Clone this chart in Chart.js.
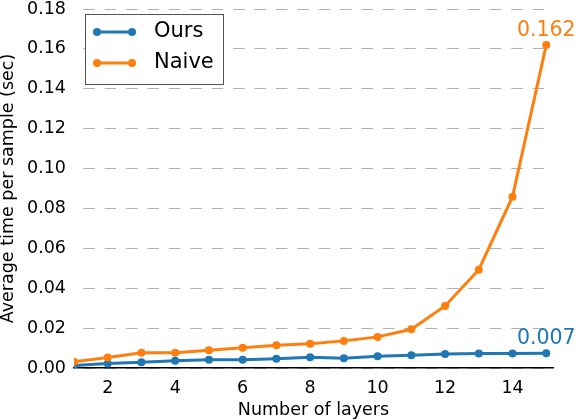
<!DOCTYPE html>
<html lang="en">
<head>
  <meta charset="UTF-8" />
  <title>Average time per sample</title>
  <script src="https://cdn.jsdelivr.net/npm/chart.js"></script>
  <style>
    * {
      margin: 0;
      padding: 0;
      box-sizing: border-box;
    }

    body {
      background-color: #fff;
    }

    .chart-container {
      position: relative;
      width: 579px;
      height: 420px;
    }
  </style>
</head>
<body>

  <div class="chart-container">
    <canvas id="timeChart"></canvas>
  </div>

  <script>
    // values
    const layers = [1, 2, 3, 4, 5, 6, 7, 8, 9, 10, 11, 12, 13, 14, 15];
    const ours = [0.0012, 0.0022, 0.0029, 0.0036, 0.0041, 0.0041, 0.0046, 0.0054, 0.0049, 0.0059, 0.0064, 0.0070, 0.0073, 0.0073, 0.0074];
    const naive = [0.0031, 0.0053, 0.0076, 0.0076, 0.0089, 0.0101, 0.0114, 0.0122, 0.0136, 0.0156, 0.0194, 0.0311, 0.0493, 0.0859, 0.162];
    const xTicks = [2, 4, 6, 8, 10, 12, 14];
    const seriesNames = ['Ours', 'Naive'];

    const BLUE = '#1f77b4';
    const ORANGE = '#ff7f0e';
    const FONT = 'DejaVu Sans';

    Chart.defaults.font.family = FONT;
    Chart.defaults.color = '#000';

    function toPoints(values) {
      return layers.map((x, i) => ({ x: x, y: values[i] }));
    }

    // matplotlib-style legend box, top left inside the axes
    const boxLegend = {
      id: 'boxLegend',
      afterDraw(chart) {
        const ctx = chart.ctx;
        const left = chart.chartArea.left + 11;
        const top = chart.chartArea.top + 5;
        ctx.save();
        ctx.fillStyle = '#fff';
        ctx.strokeStyle = '#555';
        ctx.lineWidth = 1;
        ctx.fillRect(left, top, 138, 70);
        ctx.strokeRect(left + 0.5, top + 0.5, 138, 70);
        chart.data.datasets.forEach((ds, i) => {
          const y = top + 18 + i * 31;
          ctx.strokeStyle = ds.borderColor;
          ctx.fillStyle = ds.borderColor;
          ctx.lineWidth = 3;
          ctx.beginPath();
          ctx.moveTo(left + 12, y);
          ctx.lineTo(left + 47, y);
          ctx.stroke();
          [left + 12, left + 47].forEach(px => {
            ctx.beginPath();
            ctx.arc(px, y, 4, 0, Math.PI * 2);
            ctx.fill();
          });
          ctx.fillStyle = '#000';
          ctx.font = '21px ' + FONT;
          ctx.textBaseline = 'middle';
          ctx.textAlign = 'left';
          ctx.fillText(ds.label, left + 69, y);
        });
        ctx.restore();
      }
    };

    // value label above the last point of each series
    const endLabels = {
      id: 'endLabels',
      afterDatasetsDraw(chart) {
        const ctx = chart.ctx;
        ctx.save();
        ctx.font = '20.5px ' + FONT;
        ctx.textAlign = 'center';
        ctx.textBaseline = 'alphabetic';
        chart.data.datasets.forEach((ds, i) => {
          const meta = chart.getDatasetMeta(i);
          const last = meta.data[meta.data.length - 1];
          const value = ds.data[ds.data.length - 1].y;
          ctx.fillStyle = ds.borderColor;
          ctx.fillText(value.toFixed(3), last.x, last.y - 9);
        });
        ctx.restore();
      }
    };

    function lineSet(label, values, color, order) {
      return {
        label: label,
        data: toPoints(values),
        borderColor: color,
        backgroundColor: color,
        borderWidth: 3,
        pointRadius: 4,
        pointBorderWidth: 0,
        pointBackgroundColor: color,
        pointHoverRadius: 4,
        tension: 0,
        clip: 0,
        order: order
      };
    }

    new Chart(document.getElementById('timeChart'), {
      type: 'line',
      data: {
        datasets: [
          lineSet(seriesNames[0], ours, BLUE, 1),
          lineSet(seriesNames[1], naive, ORANGE, 0)
        ]
      },
      options: {
        responsive: true,
        maintainAspectRatio: false,
        animation: false,
        layout: { padding: { top: 0, right: 26, bottom: 0, left: 0 } },
        plugins: {
          legend: { display: false },
          tooltip: { enabled: false }
        },
        scales: {
          x: {
            type: 'linear',
            min: 1,
            max: 15.2,
            afterBuildTicks(scale) {
              scale.ticks = xTicks.map(v => ({ value: v }));
            },
            afterFit(scale) {
              scale.height = 52;
              scale.paddingLeft = 0;
              scale.paddingRight = 0;
            },
            grid: { display: false },
            border: { display: true, color: '#000', width: 1.5 },
            ticks: {
              font: { size: 17.5, lineHeight: 1 },
              padding: 4,
              maxRotation: 0,
              color: '#000'
            },
            title: {
              display: true,
              text: 'Number of layers',
              font: { size: 17.5, lineHeight: 1 },
              padding: { top: 0, bottom: 1 },
              color: '#000'
            }
          },
          y: {
            min: 0,
            max: 0.18,
            afterFit(scale) {
              scale.width = 74;
              scale.paddingTop = 9;
              scale.paddingBottom = 0;
            },
            grid: {
              display: true,
              drawTicks: false,
              color: '#b0b0b0',
              lineWidth: 1
            },
            border: { display: false, dash: [11.5, 9.9], dashOffset: 12.1 },
            ticks: {
              stepSize: 0.02,
              padding: 8,
              font: { size: 17.5, lineHeight: 1 },
              color: '#000',
              callback: v => v.toFixed(2)
            },
            title: {
              display: true,
              text: 'Average time per sample (sec)',
              font: { size: 17.5, lineHeight: 1 },
              padding: { top: 0, bottom: 0 },
              color: '#000'
            }
          }
        }
      },
      plugins: [boxLegend, endLabels]
    });
  </script>
</body>
</html>
